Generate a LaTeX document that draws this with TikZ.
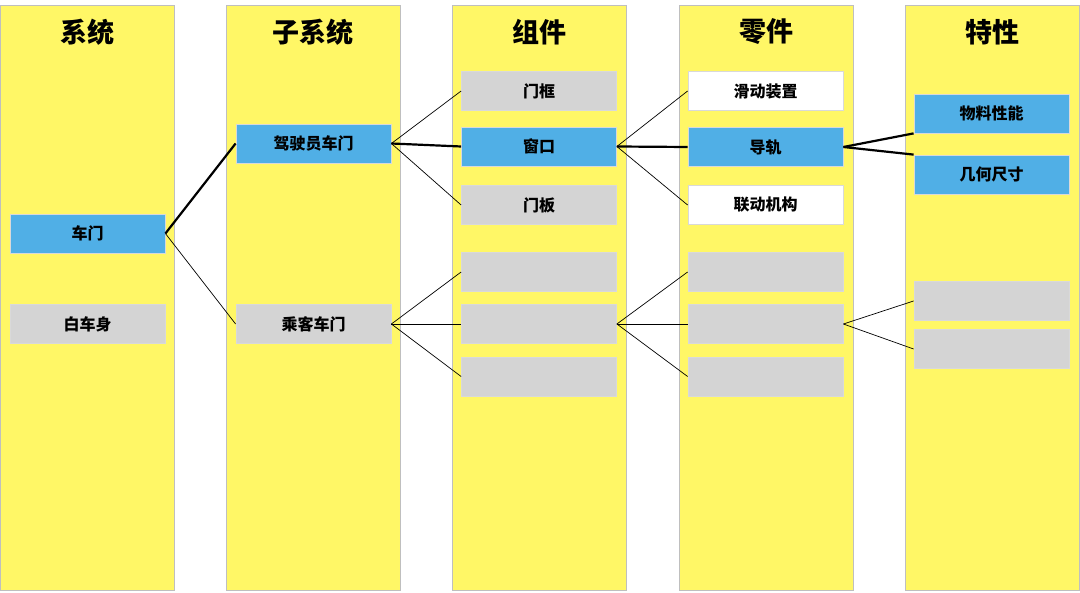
\documentclass[tikz,border=0pt]{standalone}
\usepackage{fontspec}
\setmainfont{Noto Sans CJK SC}
\begin{document}
\begin{tikzpicture}[x=1pt,y=-1pt,
  col/.style={draw=black!25,fill=yellow!60,line width=0.8pt},
  bx/.style={draw=black!15,line width=0.8pt,minimum width=155pt,minimum height=39pt,inner sep=0pt,font=\fontsize{16}{18}\selectfont\bfseries},
  cy/.style={bx,fill=cyan!80!blue!70},
  gy/.style={bx,fill=black!17},
  wh/.style={bx,fill=white},
  hd/.style={font=\fontsize{27}{30}\selectfont\bfseries},
  thin/.style={line width=0.7pt},
  thick/.style={line width=2.2pt}]
\useasboundingbox (0,0) rectangle (1080,593);
\foreach \x/\t [count=\i] in {0/系统,226/子系统,452/组件,679/零件,905/特性}{
  \draw[col] (\x+0.5,5) rectangle (\x+174,590);
  \node[hd] (h\i) at (\x+87,32) {\t};
}
\node[cy] (a1) at (87.5,233.5) {车门};
\node[gy] (a2) at (87.5,324) {白车身};
\node[cy] (b1) at (313.5,143.5) {驾驶员车门};
\node[gy] (b2) at (313.5,324) {乘客车门};
\node[gy] (c1) at (539,91) {门框};
\node[cy] (c2) at (539,146.5) {窗口};
\node[gy] (c3) at (539,205) {门板};
\node[gy] (c4) at (539,272) {};
\node[gy] (c5) at (539,324) {};
\node[gy] (c6) at (539,376.5) {};
\node[wh] (d1) at (765.5,91) {滑动装置};
\node[cy] (d2) at (765.5,147) {导轨};
\node[wh] (d3) at (765.5,205) {联动机构};
\node[gy] (d4) at (765.5,272) {};
\node[gy] (d5) at (765.5,324) {};
\node[gy] (d6) at (765.5,376.5) {};
\node[cy] (e1) at (991.5,113.5) {物料性能};
\node[cy] (e2) at (991.5,174.5) {几何尺寸};
\node[gy] (e3) at (991.5,301) {};
\node[gy] (e4) at (991.5,349) {};
\draw[thick] (a1.east) -- (b1.west);
\draw[thin] (a1.east) -- (b2.west);
\draw[thin] (b1.east) -- (c1.west);
\draw[thick] (b1.east) -- (c2.west);
\draw[thin] (b1.east) -- (c3.west);
\foreach \n in {c4,c5,c6} \draw[thin] (b2.east) -- (\n.west);
\draw[thin] (c2.east) -- (d1.west);
\draw[thick] (c2.east) -- (d2.west);
\draw[thin] (c2.east) -- (d3.west);
\foreach \n in {d4,d5,d6} \draw[thin] (c5.east) -- (\n.west);
\draw[thick] (d2.east) -- (e1.south west);
\draw[thick] (d2.east) -- (e2.north west);
\foreach \n in {e3,e4} \draw[thin] (d5.east) -- (\n.west);
\end{tikzpicture}
\end{document}
